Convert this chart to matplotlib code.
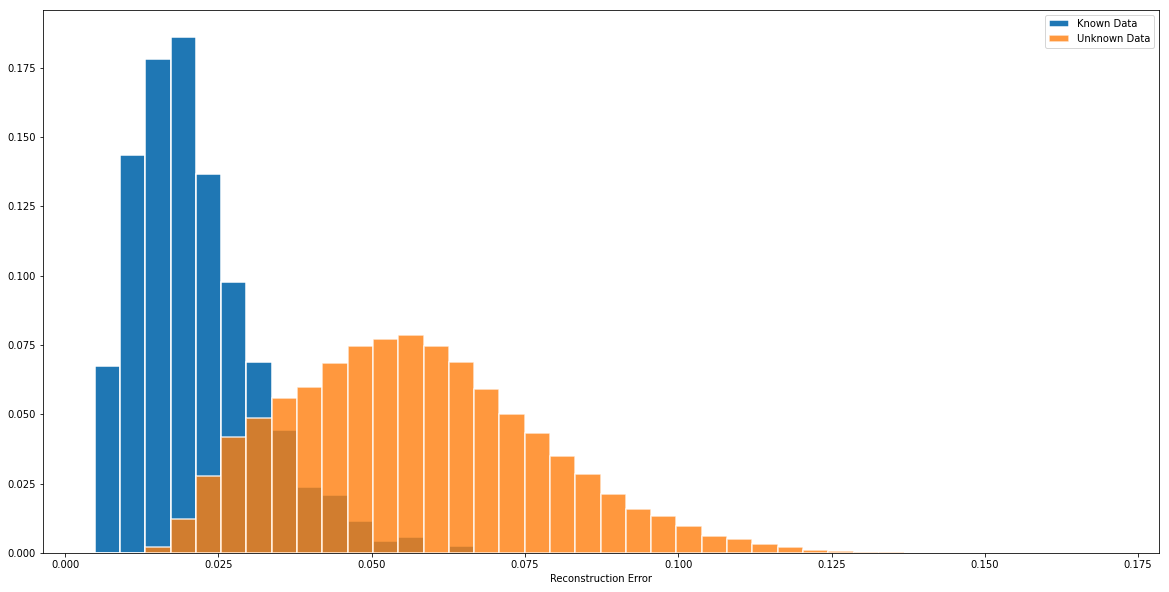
import numpy as np
import matplotlib
matplotlib.use('Agg')
import matplotlib.pyplot as plt

# histogram bins shared by both series
bin_start = 0.00483
bin_width = 0.004125

known = [0.0676, 0.1436, 0.1782, 0.1862, 0.1367, 0.0979, 0.0690, 0.0444,
         0.0239, 0.0210, 0.0115, 0.0043, 0.0057, 0.0004, 0.0025, 0.0,
         0.0, 0.0004, 0.0, 0.0, 0.0, 0.0, 0.0, 0.0, 0.0003]

unknown = [0.0, 0.0, 0.0020, 0.0121, 0.0277, 0.0417, 0.0486, 0.0560,
           0.0598, 0.0686, 0.0747, 0.0772, 0.0787, 0.0747, 0.0690, 0.0592,
           0.0502, 0.0433, 0.0350, 0.0286, 0.0213, 0.0159, 0.0132, 0.0099,
           0.0063, 0.0051, 0.0033, 0.0022, 0.0012, 0.0008, 0.0004, 0.0002,
           0.0001, 0.0001, 0.0001, 0.0001, 0.0001]

known_edges = bin_start + bin_width * np.arange(len(known))
unknown_edges = bin_start + bin_width * np.arange(len(unknown))

fig = plt.figure(figsize=(1169 / 72, 592 / 72), dpi=72)
ax = fig.add_subplot(111)
fig.subplots_adjust(left=43 / 1169, right=1159 / 1169, top=1 - 10 / 592, bottom=1 - 553 / 592)

ax.bar(known_edges, known, width=bin_width, align='edge', color='#1f77b4',
       edgecolor='white', linewidth=1.5, label='Known Data')
ax.bar(unknown_edges, unknown, width=bin_width, align='edge', color='#ff7f0e',
       alpha=0.8, edgecolor='white', linewidth=1.5, label='Unknown Data')

ax.set_xlim(-0.0036, 0.1784)
ax.set_ylim(0, 0.1958)
ax.set_xticks([0.0, 0.025, 0.05, 0.075, 0.1, 0.125, 0.15, 0.175])
ax.set_xlabel('Reconstruction Error')
ax.legend(loc='upper right')

fig.savefig('out.png', dpi=72)
